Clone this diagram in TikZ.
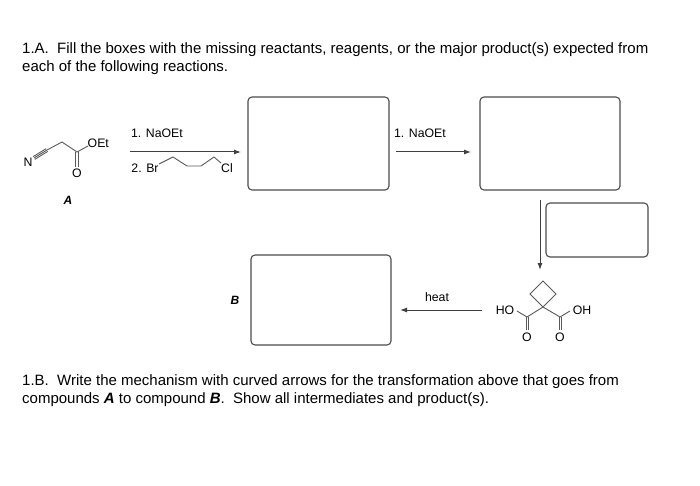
\documentclass[tikz,border=0pt]{standalone}
\usepackage{fontspec}
\setmainfont{Liberation Sans}
\usetikzlibrary{arrows.meta}
\begin{document}
\begin{tikzpicture}[x=1pt,y=-1pt,
  bx/.style={draw=black!70,line width=1.1pt,rounded corners=4pt},
  rx/.style={draw=black!75,line width=1pt,-{Latex[length=7pt,width=5pt]}},
  bd/.style={draw=black!65,line width=0.9pt},
  lbl/.style={font=\fontsize{12.3}{14}\selectfont,inner sep=0.5pt},
  txt/.style={font=\fontsize{15}{17}\selectfont,anchor=west,inner sep=0}]
\useasboundingbox (0,0) rectangle (700,486);
\node[txt] (t1) at (22,50) {1.A.\ \ Fill the boxes with the missing reactants, reagents, or the major product(s) expected from};
\node[txt] (t2) at (22,68) {each of the following reactions.};
\node[txt] (t3) at (22,382) {1.B.\ \ Write the mechanism with curved arrows for the transformation above that goes from};
\node[txt] (t4) at (22,400) {compounds \textbf{\textit{A}} to compound \textbf{\textit{B}}.\ \ Show all intermediates and product(s).};
% boxes
\draw[bx] (248,97) rectangle (389,190);
\draw[bx] (480,97) rectangle (620,190);
\draw[bx] (546,203) rectangle (648,257);
\draw[bx] (251,255) rectangle (391,345);
% arrows
\coordinate (a1s) at (130,152); \coordinate (a1e) at (241,152);
\draw[rx] (a1s) -- (a1e);
\node[lbl] (r1) at (157,133) {1. NaOEt};
\node[lbl] (r2) at (145,168) {2. Br};
\draw[bd] (159,164) -- (173,157) -- (187,166) -- (201,166) -- (214,157) -- (221,163);
\node[lbl] (cl) at (227,168) {Cl};
\coordinate (a2s) at (396,152); \coordinate (a2e) at (471,152);
\draw[rx] (a2s) -- (a2e);
\node[lbl] (r3) at (420,133) {1. NaOEt};
\coordinate (a3s) at (540,200); \coordinate (a3e) at (540,270);
\draw[rx] (a3s) -- (a3e);
\coordinate (a4s) at (482,310); \coordinate (a4e) at (400,310);
\draw[rx] (a4s) -- (a4e);
\node[lbl] (heat) at (437,297) {heat};
\node[lbl,font=\fontsize{12}{14}\selectfont\bfseries\itshape] (B) at (235,300) {B};
% molecule A
\node[lbl] (N) at (28,162) {N};
\draw[bd] (34,158) -- (47,150);
\draw[bd] (33.2,156.6) -- (46.2,148.6);
\draw[bd] (34.8,159.4) -- (47.8,151.4);
\draw[bd] (47,150) -- (62,142) -- (77,152) -- (88,146);
\draw[bd] (75.8,152) -- (75.8,167);
\draw[bd] (78.6,152) -- (78.6,167);
\node[lbl] (O1) at (77,173) {O};
\node[lbl,anchor=west] (OEt) at (87,143) {OEt};
\node[lbl,font=\fontsize{12}{14}\selectfont\bfseries\itshape] (A) at (68,200) {A};
% diacid
\draw[bd] (543,307) -- (530,294) -- (543,281) -- (556,294) -- cycle;
\draw[bd] (543,307) -- (527,317) -- (517,311);
\draw[bd] (543,307) -- (560,317) -- (570,311);
\draw[bd] (526,317) -- (526,330); \draw[bd] (528.8,317) -- (528.8,330);
\draw[bd] (559,317) -- (559,330); \draw[bd] (561.8,317) -- (561.8,330);
\node[lbl] (HO) at (505,310) {HO};
\node[lbl] (OH) at (582,310) {OH};
\node[lbl] (O2) at (527,337) {O};
\node[lbl] (O3) at (560,337) {O};
\end{tikzpicture}
\end{document}
